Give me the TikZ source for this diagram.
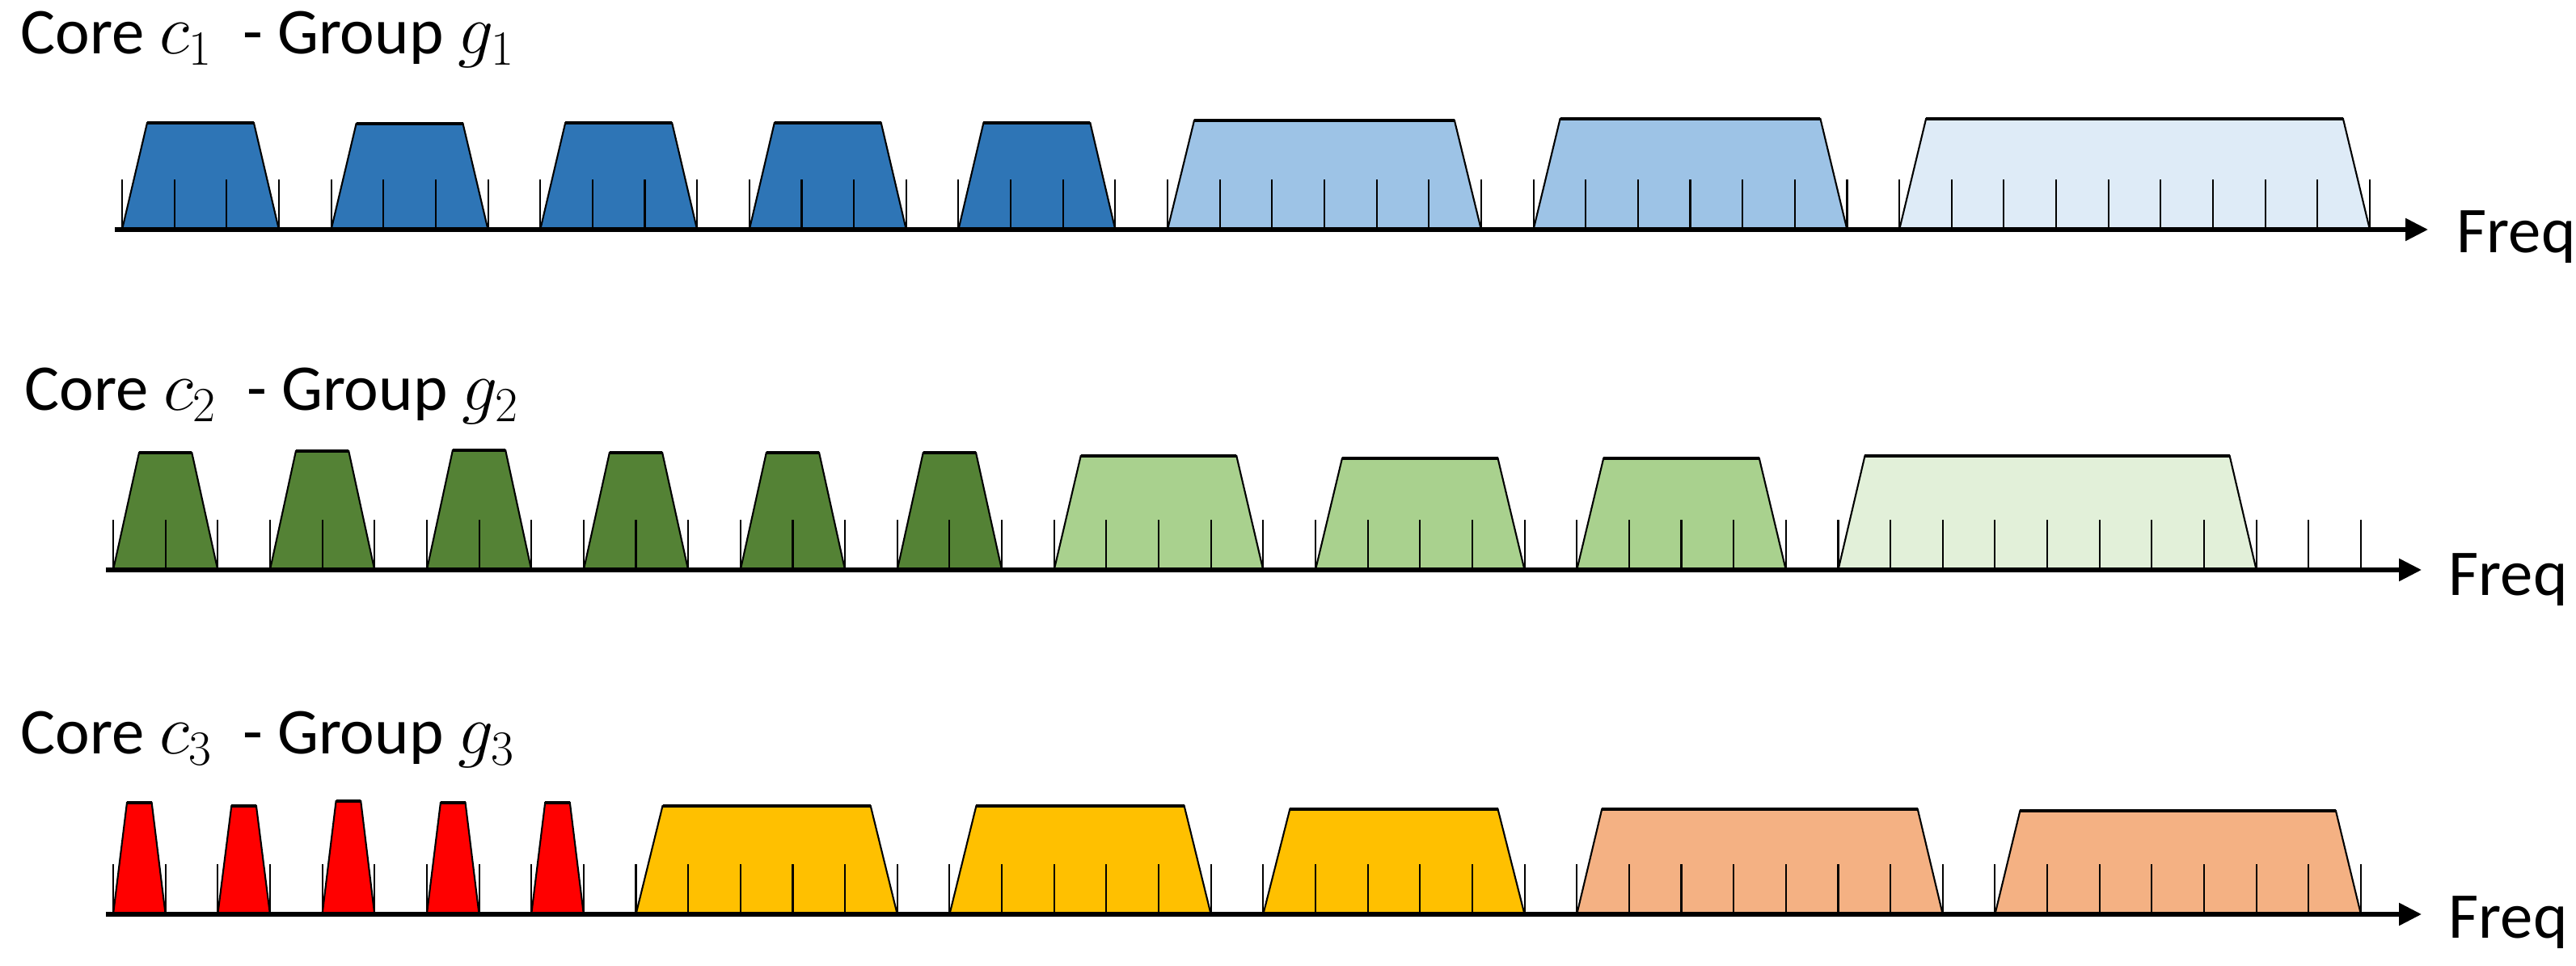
\documentclass[tikz,border=0pt]{standalone}
\usepackage{fontspec}
\setmainfont{Carlito}
\usepackage{tikz}
\usetikzlibrary{arrows.meta}
\usetikzlibrary{positioning}

\definecolor{blueA}{HTML}{2E75B6}
\definecolor{blueB}{HTML}{9DC3E6}
\definecolor{blueC}{HTML}{DEEBF7}
\definecolor{greenA}{HTML}{548235}
\definecolor{greenB}{HTML}{A9D18E}
\definecolor{greenC}{HTML}{E2F0D9}
\definecolor{redA}{HTML}{FF0000}
\definecolor{yellowA}{HTML}{FFC000}
\definecolor{peachA}{HTML}{F4B183}

\tikzset{
  lbl/.style={anchor=base west,inner sep=0pt,font=\fontsize{23}{28}\selectfont},
  tickline/.style={line width=0.6pt},
  freqaxis/.style={line width=1.6pt,-{Triangle[length=0.28cm,width=0.27cm]}},
  bandshape/.style={draw,line width=0.6pt},
}

% \band{x0}{y0}{first slot}{slots}{colour}{height}{inset}
\newcommand{\band}[7]{%
  \filldraw[bandshape,fill=#5] ({#1+#3*0.6465},#2) -- ({#1+#3*0.6465+#7},{#2+#6})
    -- ({#1+(#3+#4)*0.6465-#7},{#2+#6}) -- ({#1+(#3+#4)*0.6465},#2) -- cycle;
  \draw[line width=1.1pt] ({#1+#3*0.6465+#7},{#2+#6}) -- ({#1+(#3+#4)*0.6465-#7},{#2+#6});
}

\begin{document}
\begin{tikzpicture}
	\useasboundingbox (0,0) rectangle (31.86,11.95);
	\node[lbl] (0) at (0.25,11.28) {Core $c_1$\ \ - Group $g_1$};
	\node[lbl] (1) at (0.30,6.87) {Core $c_2$\ \ - Group $g_2$};
	\node[lbl] (2) at (0.25,2.62) {Core $c_3$\ \ - Group $g_3$};

	\foreach \s/\n/\c/\h/\w in {0/3/blueA/1.32/0.31,4/3/blueA/1.31/0.31,8/3/blueA/1.32/0.31,
	    12/3/blueA/1.32/0.31,16/3/blueA/1.32/0.31,20/6/blueB/1.35/0.33,27/6/blueB/1.37/0.33,34/9/blueC/1.37/0.33}
	  \band{1.51}{9.11}{\s}{\n}{\c}{\h}{\w};
	\foreach \s/\n/\c/\h/\w in {0/2/greenA/1.45/0.32,3/2/greenA/1.47/0.32,6/2/greenA/1.48/0.32,
	    9/2/greenA/1.45/0.32,12/2/greenA/1.45/0.32,15/2/greenA/1.45/0.32,18/4/greenB/1.41/0.33,
	    23/4/greenB/1.38/0.33,28/4/greenB/1.38/0.33,33/8/greenC/1.41/0.33}
	  \band{1.40}{4.90}{\s}{\n}{\c}{\h}{\w};
	\foreach \s/\n/\c/\h/\w in {0/1/redA/1.38/0.17,2/1/redA/1.34/0.17,4/1/redA/1.40/0.17,
	    6/1/redA/1.38/0.17,8/1/redA/1.38/0.17,10/5/yellowA/1.34/0.33,16/5/yellowA/1.34/0.33,
	    22/5/yellowA/1.30/0.33,28/7/peachA/1.30/0.31,36/7/peachA/1.28/0.31}
	  \band{1.40}{0.64}{\s}{\n}{\c}{\h}{\w};

	\foreach \y/\x in {9.11/1.51,4.90/1.40,0.64/1.40}
	  \foreach \i in {0,...,43}
	    \draw[tickline] ({\x+\i*0.6465},\y) -- ++(0,0.62);

	\coordinate (a1) at (1.42,9.11);
	\coordinate (b1) at (30.03,9.11);
	\coordinate (a2) at (1.31,4.90);
	\coordinate (b2) at (29.95,4.90);
	\coordinate (a3) at (1.31,0.64);
	\coordinate (b3) at (29.95,0.64);
	\draw[freqaxis] (a1) -- (b1);
	\draw[freqaxis] (a2) -- (b2);
	\draw[freqaxis] (a3) -- (b3);

	\node[lbl] (3) at (30.38,8.82) {Freq};
	\node[lbl] (4) at (30.28,4.58) {Freq};
	\node[lbl] (5) at (30.28,0.34) {Freq};
\end{tikzpicture}
\end{document}
